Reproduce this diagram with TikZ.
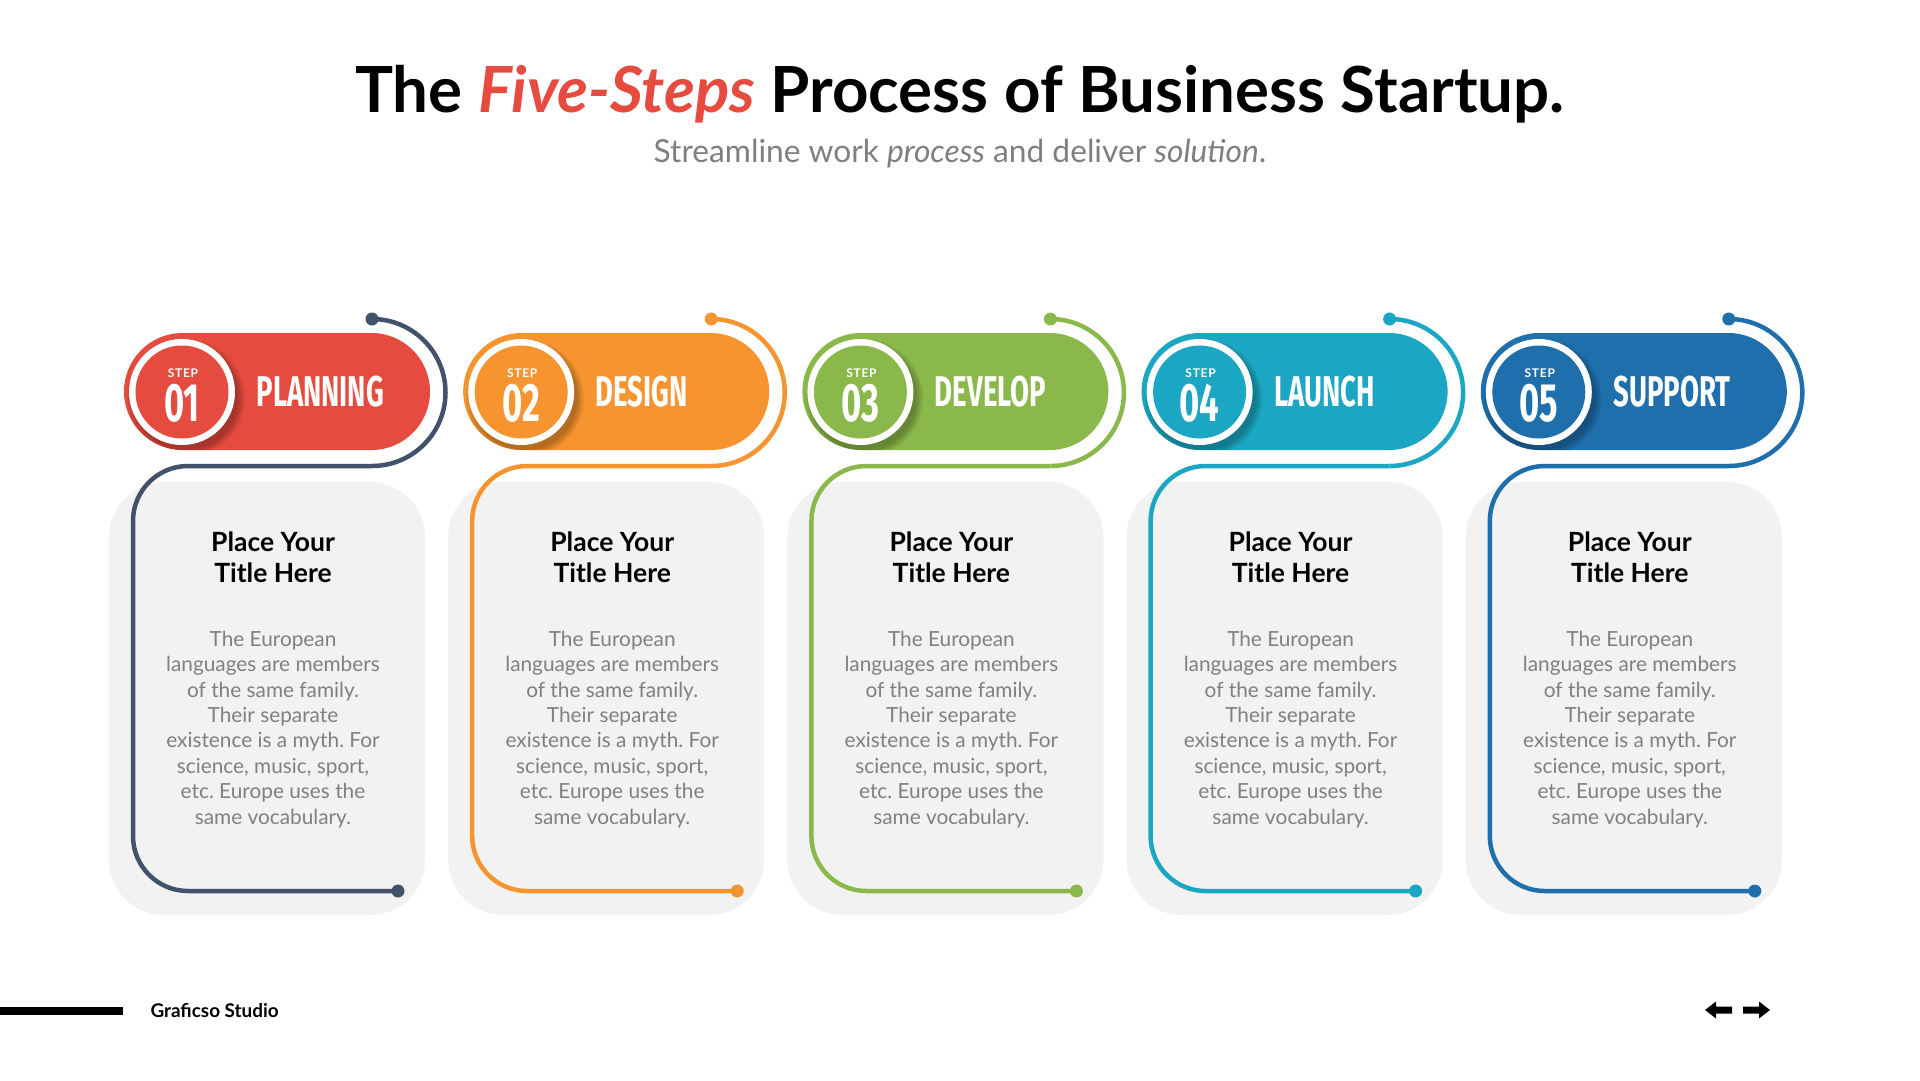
\documentclass[tikz,border=0pt]{standalone}
\usepackage{fontspec}
\setmainfont{Lato}
\newfontfamily\condf{Fira Sans}[FakeStretch=0.64]
\frenchspacing
\definecolor{cA}{HTML}{E54B3F}
\definecolor{cB}{HTML}{F6952F}
\definecolor{cC}{HTML}{8BB84A}
\definecolor{cD}{HTML}{1BA7C3}
\definecolor{cE}{HTML}{1F6FAD}
\definecolor{lA}{HTML}{42526B}
\definecolor{cardgray}{HTML}{F2F2F2}
\definecolor{bodygray}{HTML}{808080}
\definecolor{subgray}{HTML}{7F7F7F}
\tikzset{
  conn/.style={line width=4.5pt},
  cardbox/.style={fill=cardgray},
  titletxt/.style={font=\fontsize{26.5}{31}\selectfont\bfseries, align=center, anchor=base, text=black},
  bodytxt/.style={font=\fontsize{20.8}{25.4}\selectfont, align=center, anchor=base, text=bodygray},
  steptxt/.style={font=\fontsize{12}{12}\selectfont\bfseries\addfontfeature{LetterSpace=6}, text=white, anchor=base},
  numtxt/.style={font=\condf\bfseries\fontsize{54}{54}\selectfont, text=white, anchor=base},
  labtxt/.style={font=\condf\bfseries\fontsize{43}{43}\selectfont, text=white, anchor=base west},
}
\begin{document}
\begin{tikzpicture}[x=1pt,y=-1pt]
\useasboundingbox[fill=white] (0,0) rectangle (1920,1080);
\node[font=\fontsize{63.6}{70}\selectfont\bfseries, anchor=base] (title) at (960,112)
  {The \textcolor{cA}{\itshape Five-Steps} Process of Business Startup.};
\node[font=\fontsize{31.7}{34}\selectfont, text=subgray, anchor=base] (sub) at (960,162)
  {Streamline work \textit{process} and deliver \textit{solution}.};
\foreach \i/\fc/\lc/\num/\lab in {0/cA/lA/01/PLANNING, 1/cB/cB/02/DESIGN, 2/cC/cC/03/DEVELOP, 3/cD/cD/04/LAUNCH, 4/cE/cE/05/SUPPORT} {
  \begin{scope}[xshift={\i*339.2pt}]
    % card
    \fill[cardbox, rounded corners=55pt] (109,482) rectangle (425,915);
    % pill
    \fill[\fc, rounded corners=58.5pt] (124,333) rectangle (430,450);
    \begin{scope}
      \clip[rounded corners=58.5pt] (124,333) rectangle (430,450);
      \foreach \k in {0,...,7} {
        \fill[black, opacity=0.035] (186,398) circle[radius={(52+\k)*1pt}];
      }
    \end{scope}
    \fill[white] (182,392) circle[radius=53pt];
    \fill[\fc] (182,392) circle[radius=46.5pt];
    \node[steptxt] (st\i) at (183,377) {STEP};
    \node[numtxt] (n\i) at (182,421) {\num};
    \node[labtxt] (lab\i) at (253,406) {\lab};
    % connector
    \coordinate (s\i) at (372,319);
    \coordinate (m\i) at (372,466);
    \coordinate (e\i) at (398,891);
    \draw[conn, \lc, rounded corners=73.5pt] (s\i) -- (445.5,319) -- (445.5,466) -- (m\i);
    \draw[conn, \lc, rounded corners=55pt] (m\i) -- (133,466) -- (133,891) -- (e\i);
    \fill[\lc] (s\i) circle[radius=6.5pt];
    \fill[\lc] (e\i) circle[radius=6.5pt];
    % texts (anchor base = baseline of last line)
    \node[titletxt] (t\i) at (273,582) {Place Your\\Title Here};
    \node[bodytxt] (b\i) at (273,824) {The European\\languages are members\\of the same family.\\Their separate\\existence is a myth. For\\science, music, sport,\\etc. Europe uses the\\same vocabulary.};
  \end{scope}
}
% footer
\fill[black] (0,1007) rectangle (123,1015);
\node[font=\fontsize{18.9}{19}\selectfont\bfseries, anchor=base west] (studio) at (147,1017) {Graficso Studio};
\fill[black] (1705,1010) -- (1716,1001.5) -- (1716,1006.5) -- (1732,1006.5) -- (1732,1013.5) -- (1716,1013.5) -- (1716,1018.5) -- cycle;
\fill[black] (1770,1010) -- (1759,1001.5) -- (1759,1006.5) -- (1743,1006.5) -- (1743,1013.5) -- (1759,1013.5) -- (1759,1018.5) -- cycle;
\end{tikzpicture}
\end{document}
